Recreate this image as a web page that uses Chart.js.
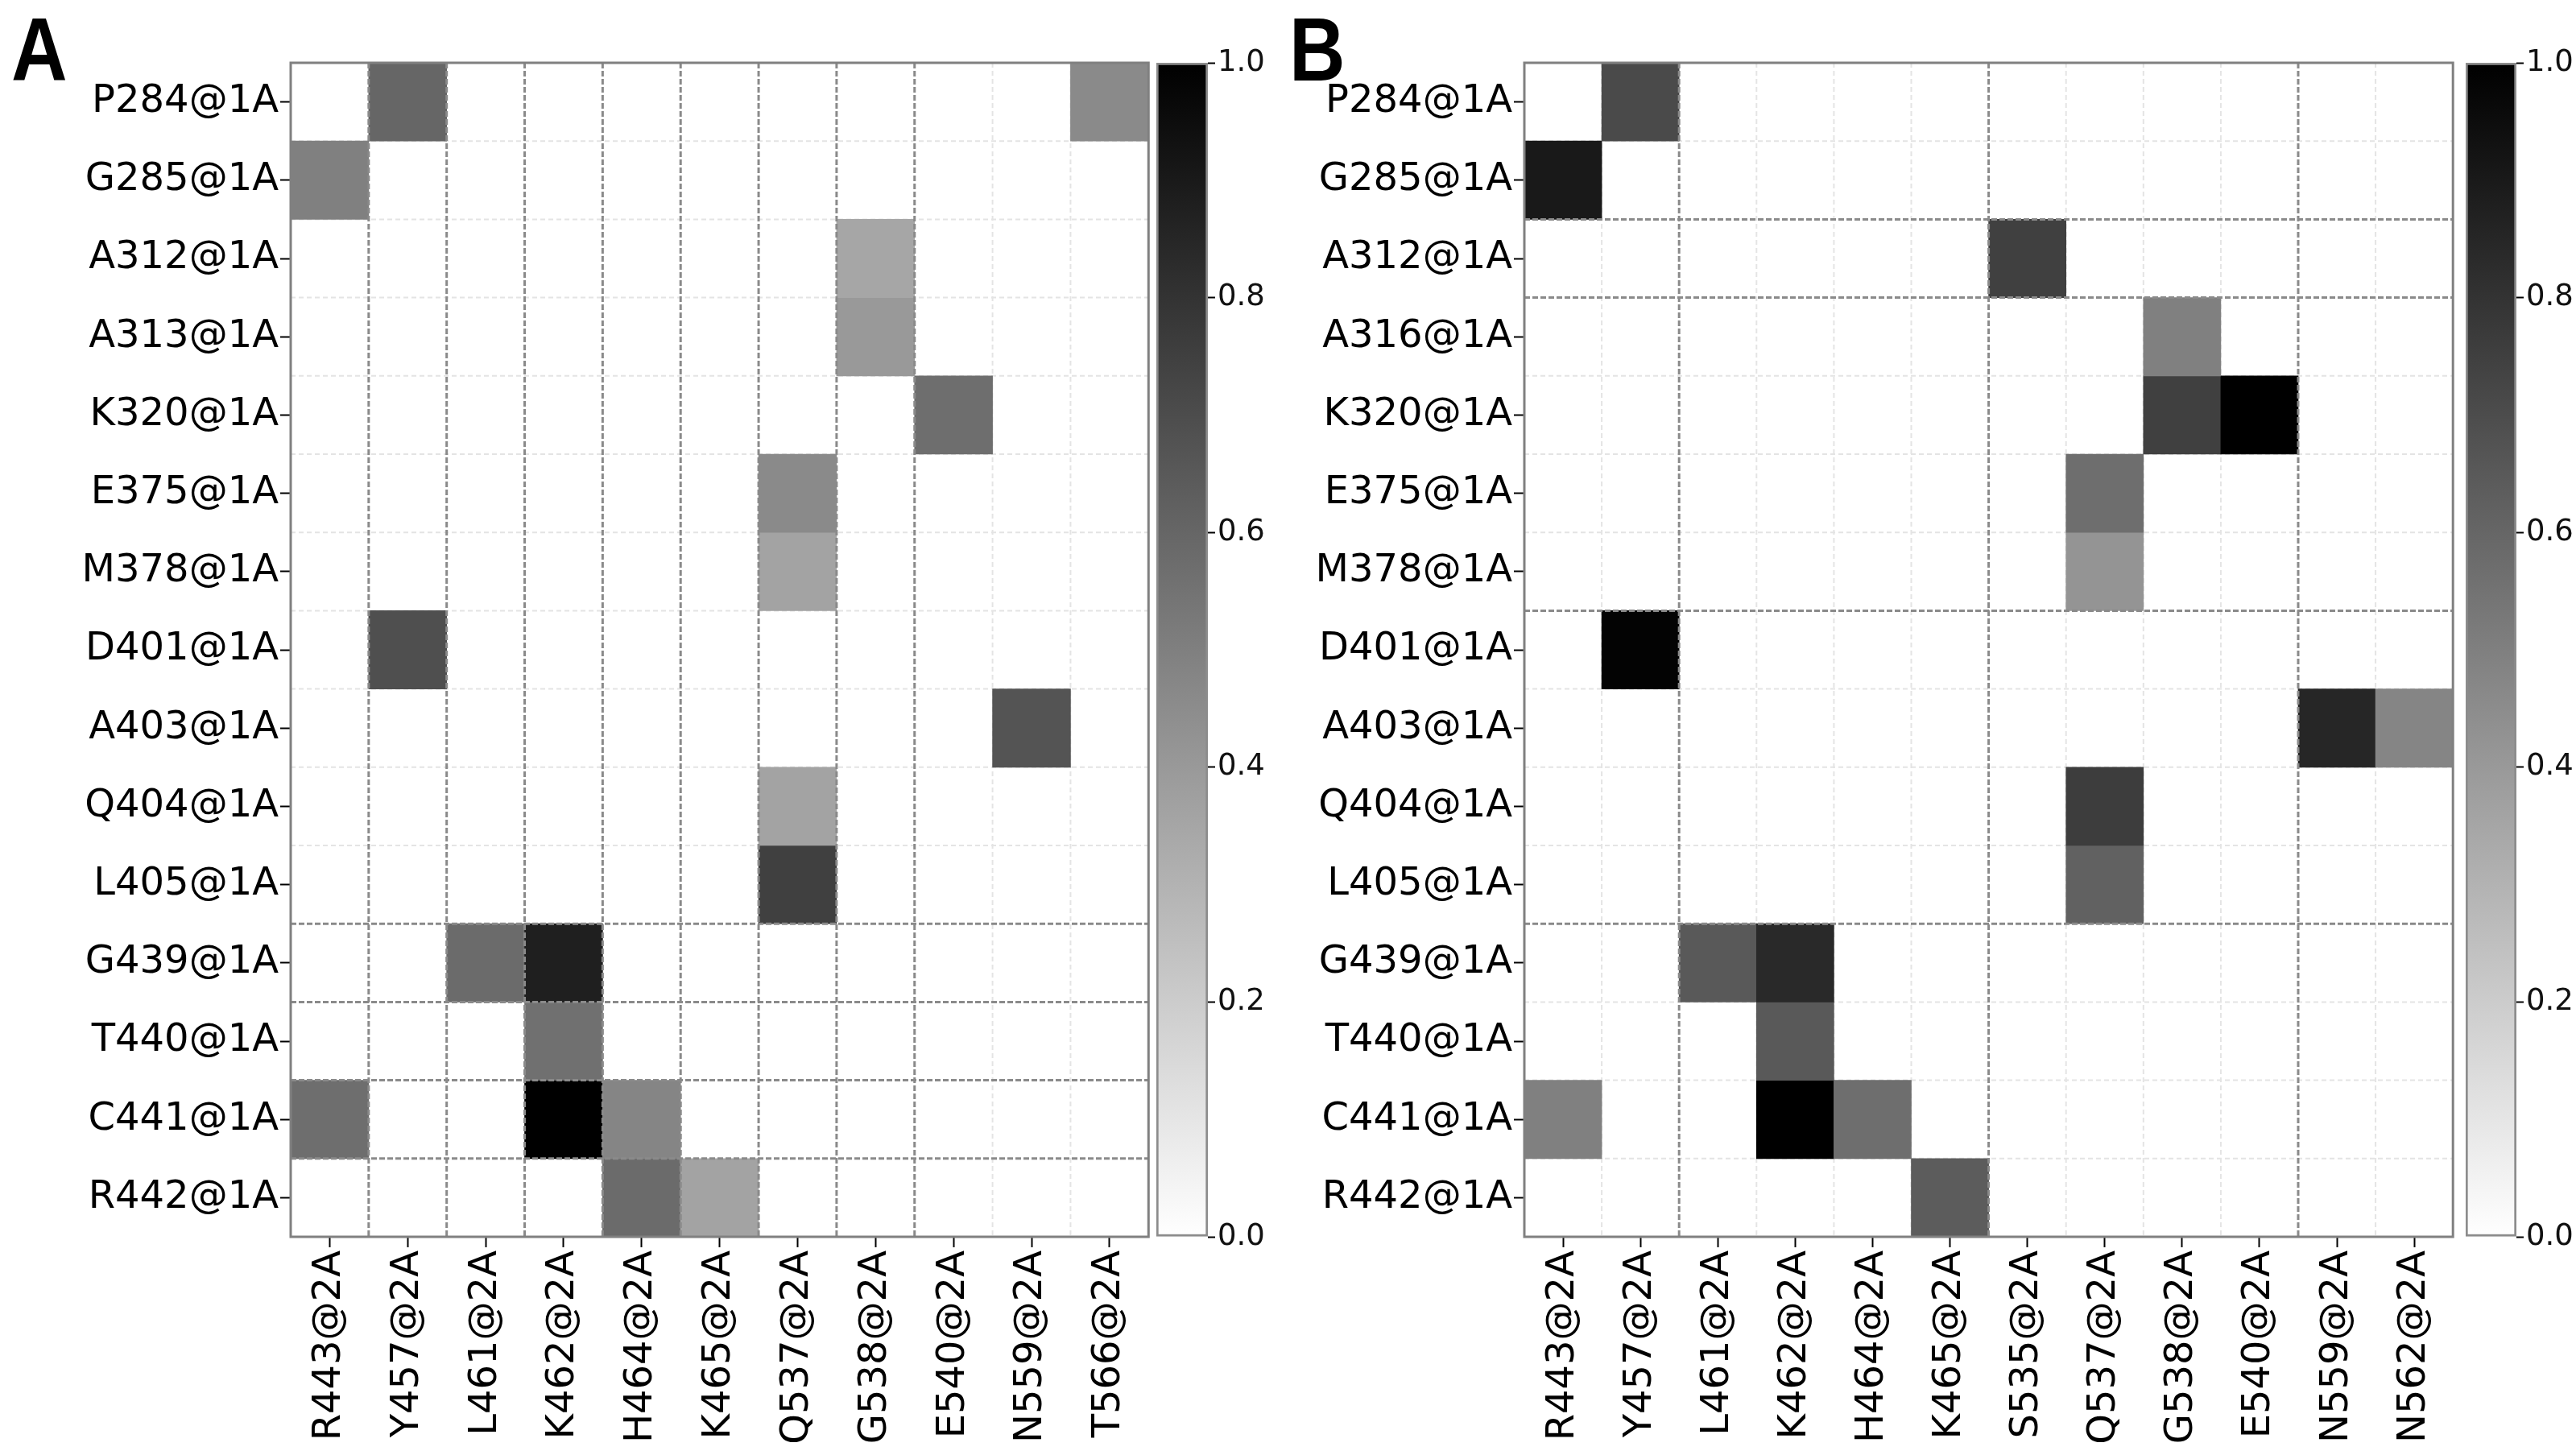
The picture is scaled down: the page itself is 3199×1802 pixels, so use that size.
<!DOCTYPE html>
<html lang="en">
<head>
    <meta charset="UTF-8">
    <title>Contact heatmaps</title>
    <script src="https://cdn.jsdelivr.net/npm/chart.js"></script>
    <style>
        body { margin: 0; width: 3199px; height: 1802px; background: #fff; position: relative; overflow: hidden; }
        canvas { position: absolute; top: 0; }
        .panel-letter { position: absolute; top: 6px; font: bold 112px "Liberation Sans", sans-serif; line-height: 112px; color: #000;
                        transform: scaleX(0.86); transform-origin: left top; }
    </style>
</head>
<body>
    <div class="panel-letter" style="left: 14px;">A</div>
    <div class="panel-letter" style="left: 1601px;">B</div>

    <canvas id="heatA" width="1440" height="1802" style="left: 0px;"></canvas>
    <canvas id="barA" width="180" height="1802" style="left: 1420px;"></canvas>
    <canvas id="heatB" width="1530" height="1802" style="left: 1530px;"></canvas>
    <canvas id="barB" width="153" height="1802" style="left: 3046px;"></canvas>

    <script>
        // ---- Panel A ----
        const rowsA = ['P284@1A', 'G285@1A', 'A312@1A', 'A313@1A', 'K320@1A', 'E375@1A', 'M378@1A', 'D401@1A',
                       'A403@1A', 'Q404@1A', 'L405@1A', 'G439@1A', 'T440@1A', 'C441@1A', 'R442@1A'];
        const colsA = ['R443@2A', 'Y457@2A', 'L461@2A', 'K462@2A', 'H464@2A', 'K465@2A', 'Q537@2A', 'G538@2A',
                       'E540@2A', 'N559@2A', 'T566@2A'];
        // one row per residue of 1A, one value per column of 2A
        const valuesA = [
            [0,    0.60, 0,    0,    0,    0,    0,    0,    0,    0,    0.46],
            [0.50, 0,    0,    0,    0,    0,    0,    0,    0,    0,    0   ],
            [0,    0,    0,    0,    0,    0,    0,    0.35, 0,    0,    0   ],
            [0,    0,    0,    0,    0,    0,    0,    0.40, 0,    0,    0   ],
            [0,    0,    0,    0,    0,    0,    0,    0,    0.57, 0,    0   ],
            [0,    0,    0,    0,    0,    0,    0.46, 0,    0,    0,    0   ],
            [0,    0,    0,    0,    0,    0,    0.36, 0,    0,    0,    0   ],
            [0,    0.69, 0,    0,    0,    0,    0,    0,    0,    0,    0   ],
            [0,    0,    0,    0,    0,    0,    0,    0,    0,    0.67, 0   ],
            [0,    0,    0,    0,    0,    0,    0.36, 0,    0,    0,    0   ],
            [0,    0,    0,    0,    0,    0,    0.75, 0,    0,    0,    0   ],
            [0,    0,    0.58, 0.88, 0,    0,    0,    0,    0,    0,    0   ],
            [0,    0,    0,    0.56, 0,    0,    0,    0,    0,    0,    0   ],
            [0.57, 0,    0,    1.00, 0.48, 0,    0,    0,    0,    0,    0   ],
            [0,    0,    0,    0,    0.58, 0.36, 0,    0,    0,    0,    0   ]
        ];
        // boundaries (index of the column / row after the line) drawn as darker separators
        const sepColsA = [1, 2, 3, 4, 5, 6, 7, 8];
        const sepRowsA = [11, 12, 13, 14];

        // ---- Panel B ----
        const rowsB = ['P284@1A', 'G285@1A', 'A312@1A', 'A316@1A', 'K320@1A', 'E375@1A', 'M378@1A', 'D401@1A',
                       'A403@1A', 'Q404@1A', 'L405@1A', 'G439@1A', 'T440@1A', 'C441@1A', 'R442@1A'];
        const colsB = ['R443@2A', 'Y457@2A', 'L461@2A', 'K462@2A', 'H464@2A', 'K465@2A', 'S535@2A', 'Q537@2A',
                       'G538@2A', 'E540@2A', 'N559@2A', 'N562@2A'];
        const valuesB = [
            [0,    0.71, 0,    0,    0,    0,    0,    0,    0,    0,    0,    0   ],
            [0.90, 0,    0,    0,    0,    0,    0,    0,    0,    0,    0,    0   ],
            [0,    0,    0,    0,    0,    0,    0.75, 0,    0,    0,    0,    0   ],
            [0,    0,    0,    0,    0,    0,    0,    0,    0.50, 0,    0,    0   ],
            [0,    0,    0,    0,    0,    0,    0,    0,    0.75, 1.00, 0,    0   ],
            [0,    0,    0,    0,    0,    0,    0,    0.57, 0,    0,    0,    0   ],
            [0,    0,    0,    0,    0,    0,    0,    0.42, 0,    0,    0,    0   ],
            [0,    0.99, 0,    0,    0,    0,    0,    0,    0,    0,    0,    0   ],
            [0,    0,    0,    0,    0,    0,    0,    0,    0,    0,    0.85, 0.48],
            [0,    0,    0,    0,    0,    0,    0,    0.76, 0,    0,    0,    0   ],
            [0,    0,    0,    0,    0,    0,    0,    0.62, 0,    0,    0,    0   ],
            [0,    0,    0.65, 0.84, 0,    0,    0,    0,    0,    0,    0,    0   ],
            [0,    0,    0,    0.65, 0,    0,    0,    0,    0,    0,    0,    0   ],
            [0.50, 0,    0,    1.00, 0.57, 0,    0,    0,    0,    0,    0,    0   ],
            [0,    0,    0,    0,    0,    0.64, 0,    0,    0,    0,    0,    0   ]
        ];
        const sepColsB = [2, 6, 10];
        const sepRowsB = [2, 3, 7, 11];

        const colorbarTicks = [0, 0.2, 0.4, 0.6, 0.8, 1.0];

        const FONT = '"DejaVu Sans", sans-serif';

        // gray_r colormap: 0 -> white, 1 -> black
        function grey(v) {
            const g = Math.round(255 * (1 - v));
            return 'rgb(' + g + ',' + g + ',' + g + ')';
        }

        // draws the dashed cell boundaries; light ones under the cells, separators over them
        function gridPlugin(rows, cols, sepRows, sepCols) {
            function drawLines(chart, dark) {
                const ctx = chart.ctx;
                const area = chart.chartArea;
                const xs = chart.scales.x, ys = chart.scales.y;
                ctx.save();
                ctx.lineWidth = dark ? 3 : 2;
                ctx.strokeStyle = dark ? '#8a8a8a' : '#e4e4e4';
                ctx.setLineDash(dark ? [7, 3] : [6, 4]);
                for (let j = 1; j < cols.length; j++) {
                    if (sepCols.includes(j) !== dark) continue;
                    const x = (xs.getPixelForValue(j - 1) + xs.getPixelForValue(j)) / 2;
                    ctx.beginPath();
                    ctx.moveTo(x, area.top);
                    ctx.lineTo(x, area.bottom);
                    ctx.stroke();
                }
                for (let i = 1; i < rows.length; i++) {
                    if (sepRows.includes(i) !== dark) continue;
                    const y = ys.getPixelForValue(i);
                    ctx.beginPath();
                    ctx.moveTo(area.left, y);
                    ctx.lineTo(area.right, y);
                    ctx.stroke();
                }
                ctx.restore();
            }
            return {
                id: 'cellGrid',
                beforeDatasetsDraw(chart) { drawLines(chart, false); },
                afterDatasetsDraw(chart) {
                    drawLines(chart, true);
                    const ctx = chart.ctx;
                    const a = chart.chartArea;
                    ctx.save();
                    ctx.strokeStyle = '#808080';
                    ctx.lineWidth = 3;
                    ctx.strokeRect(a.left, a.top, a.right - a.left, a.bottom - a.top);
                    ctx.restore();
                }
            };
        }

        function makeHeatmap(id, rows, cols, values, sepRows, sepCols, yWidth, padRight) {
            const datasets = rows.map((r, i) => ({
                label: r,
                data: cols.map((c, j) => values[i][j] > 0 ? [i, i + 1] : null),
                backgroundColor: cols.map((c, j) => grey(values[i][j])),
                borderWidth: 0,
                barPercentage: 1.0,
                categoryPercentage: 1.0,
                grouped: false
            }));
            return new Chart(document.getElementById(id), {
                type: 'bar',
                data: { labels: cols, datasets: datasets },
                options: {
                    responsive: false,
                    animation: false,
                    layout: { padding: { top: 78, right: padRight, bottom: 0, left: 0 } },
                    plugins: { legend: { display: false }, tooltip: { enabled: false } },
                    scales: {
                        x: {
                            grid: { display: true, offset: false, drawOnChartArea: false, tickLength: 13, tickColor: '#000', tickWidth: 2 },
                            border: { display: false },
                            ticks: { color: '#000', font: { family: FONT, size: 48 }, maxRotation: 90, minRotation: 90, autoSkip: false, padding: 4 },
                            afterFit(scale) { scale.height = 266; }
                        },
                        y: {
                            type: 'linear',
                            min: 0,
                            max: rows.length,
                            reverse: true,
                            afterBuildTicks(scale) { scale.ticks = rows.map((r, i) => ({ value: i + 0.5 })); },
                            grid: { display: true, drawOnChartArea: false, tickLength: 13, tickColor: '#000', tickWidth: 2 },
                            border: { display: false },
                            ticks: { color: '#000', font: { family: FONT, size: 48 }, autoSkip: false, padding: 2,
                                     callback: (v, i) => rows[i] },
                            afterFit(scale) { scale.width = yWidth; }
                        }
                    }
                },
                plugins: [gridPlugin(rows, cols, sepRows, sepCols)]
            });
        }

        function makeColorbar(id, axisWidth) {
            return new Chart(document.getElementById(id), {
                type: 'bar',
                data: {
                    labels: ['scale'],
                    datasets: [{
                        data: [[0, 1]],
                        backgroundColor(ctx) {
                            const area = ctx.chart.chartArea;
                            if (!area) return '#888';
                            const g = ctx.chart.ctx.createLinearGradient(0, area.bottom, 0, area.top);
                            g.addColorStop(0, '#ffffff');
                            g.addColorStop(1, '#000000');
                            return g;
                        },
                        borderColor: '#8c8c8c',
                        borderWidth: 3,
                        borderSkipped: false,
                        barPercentage: 1.0,
                        categoryPercentage: 1.0
                    }]
                },
                options: {
                    responsive: false,
                    animation: false,
                    layout: { padding: { top: 78, bottom: 266, left: 16, right: 0 } },
                    plugins: { legend: { display: false }, tooltip: { enabled: false } },
                    scales: {
                        x: { display: false },
                        y: {
                            position: 'right',
                            min: 0,
                            max: 1,
                            afterBuildTicks(scale) { scale.ticks = colorbarTicks.map(v => ({ value: v })); },
                            grid: { display: true, drawOnChartArea: false, tickLength: 9, tickColor: '#000', tickWidth: 2 },
                            border: { display: false },
                            ticks: { color: '#111', font: { family: FONT, size: 37 }, padding: 3,
                                     callback: v => v.toFixed(1) },
                            afterFit(scale) { scale.width = axisWidth; }
                        }
                    }
                }
            });
        }

        makeHeatmap('heatA', rowsA, colsA, valuesA, sepRowsA, sepColsA, 361, 12);
        makeHeatmap('heatB', rowsB, colsB, valuesB, sepRowsB, sepColsB, 363, 6);
        makeColorbar('barA', 100);
        makeColorbar('barB', 74);
    </script>
</body>
</html>
